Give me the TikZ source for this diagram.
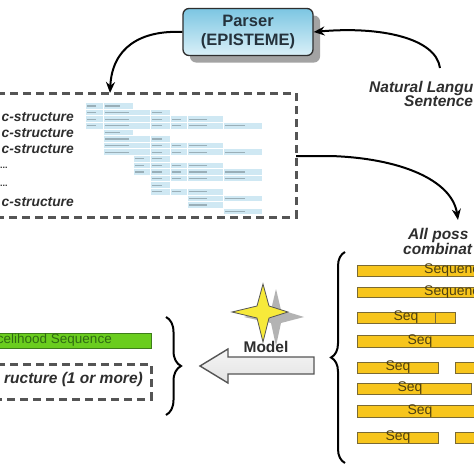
\documentclass[tikz,border=0pt]{standalone}
\usepackage{fontspec}
\setmainfont{Liberation Sans}
\usetikzlibrary{arrows.meta,shadows,decorations.pathreplacing}
\definecolor{txt}{HTML}{2E2E2E}
\definecolor{dashc}{HTML}{555555}
\definecolor{cellc}{HTML}{CFE8F3}
\definecolor{cellt}{HTML}{9AAFB8}
\definecolor{yel}{HTML}{F7C51C}
\definecolor{yeld}{HTML}{7A6A34}
\definecolor{yelt}{HTML}{4E4010}
\definecolor{grn}{HTML}{6ACD1E}
\definecolor{grnd}{HTML}{3E7E1A}
\definecolor{grnt}{HTML}{2F6A12}
\definecolor{ptop}{HTML}{7CC6E2}
\definecolor{pbot}{HTML}{DAF0F8}
\definecolor{ptxt}{HTML}{25323C}
\tikzset{
  lab/.style={font=\bfseries\itshape\fontsize{15.5}{18}\selectfont, text=txt, inner sep=0pt},
  clab/.style={font=\bfseries\itshape\fontsize{13.8}{16}\selectfont, text=txt, inner sep=0pt},
  parserbox/.style={draw=txt, line width=1.3pt, rounded corners=6pt, top color=ptop, bottom color=pbot,
     minimum width=130pt, minimum height=47pt, align=center, font=\bfseries\fontsize{16.5}{18.5}\selectfont, text=ptxt,
     drop shadow={shadow xshift=7pt, shadow yshift=-7pt, fill=gray!80, opacity=0.9}},
  conn/.style={line width=2pt, -{Stealth[length=11pt,width=9pt]}},
  dbox/.style={draw=dashc, line width=3pt, dash pattern=on 8pt off 5pt},
  cell/.style={fill=cellc},
  celltext/.style={draw=cellt, line width=1.2pt},
  ybar/.style={fill=yel, draw=yeld, line width=1pt},
  ytext/.style={font=\fontsize{14}{15}\selectfont, text=yelt, inner sep=0pt},
  bracestyle/.style={line width=2pt, decorate},
}
\begin{document}
\begin{tikzpicture}[x=1pt,y=-1pt]
\useasboundingbox (0,0) rectangle (474,474);
\clip (0,0) rectangle (474,474);
\fill[white] (0,0) rectangle (474,474);

% parser
\node[parserbox] (parser) at (248,32) {Parser\\(EPISTEME)};

% natural language sentence
\node[lab, anchor=west] (nl1) at (369,88) {Natural Langu};
\node[lab, anchor=west] (nl2) at (404,101) {Sentence};
\coordinate (natTop) at (440,68);
\draw[conn] (natTop) .. controls (436,38) and (380,26) .. (parser.east);

% dashed box with table
\coordinate (dbTL) at (-10,93);
\coordinate (dbBR) at (296,217);
\draw[dbox] (dbTL) rectangle (dbBR);
\coordinate (dbTop) at (110,93);
\coordinate (dbRight) at (296,156);
\draw[conn] (parser.west) .. controls (140,30) and (112,48) .. (dbTop);

\node[clab, anchor=east] (c1) at (74,117) {c-structure};
\node[clab, anchor=east] (c2) at (74,133) {c-structure};
\node[clab, anchor=east] (c3) at (74,149) {c-structure};
\node[font=\bfseries\fontsize{9}{10}\selectfont, text=txt, inner sep=0pt, anchor=west] (d1) at (0,168) {...};
\node[font=\bfseries\fontsize{9}{10}\selectfont, text=txt, inner sep=0pt, anchor=west] (d2) at (0,186) {...};
\node[clab, anchor=east] (c4) at (74,202) {c-structure};

\foreach \r/\a/\b in {1/85/103,1/103/133,
  2/85/103,2/103/150,2/150/170,
  3/85/103,3/103/150,3/150/170,3/170/187,3/187/223,
  4/85/103,4/103/150,4/150/170,4/170/187,4/187/223,4/223/262,
  5/103/133,
  6/103/150,6/150/170,
  7/103/150,7/150/170,7/170/187,7/187/223,
  8/103/150,8/150/170,8/170/187,8/187/223,8/223/262,
  9/133/150,9/150/170,
  10/133/150,10/150/170,10/170/187,10/187/223,
  11/133/150,11/150/170,11/170/187,11/187/223,11/223/262,
  12/150/170,12/170/187,12/187/223,12/223/262,
  13/150/170,
  14/150/170,14/170/187,14/187/223,
  15/187/223,15/223/262,
  16/187/223,
  17/223/262}{
  \pgfmathsetmacro{\yc}{106+6.6*(\r-1)}
  \fill[cell] (\a+0.5,\yc-2.8) rectangle (\b-0.5,\yc+2.8);
  \draw[celltext] (\a+2,\yc) -- ({\a+2+0.5*(\b-\a)},\yc);
}

% arrow to all possible combinations
\node[lab, anchor=west] (ap1) at (408,235) {All poss};
\node[lab, anchor=west] (ap2) at (403,249) {combinat};
\coordinate (apTop) at (458,220);
\draw[conn] (dbRight) -- (330,156) .. controls (400,158) and (452,180) .. (apTop);

% big left brace
\coordinate (lbB) at (345,463);
\coordinate (lbT) at (345,252);
\draw[bracestyle, decoration={brace, amplitude=14pt}] (lbB) -- (lbT);

% yellow bars
\path[ybar] (357,265) rectangle (490,276);
\node[ytext, anchor=west] (s1) at (424,270.5) {Sequenc};
\path[ybar] (357,287) rectangle (490,297);
\node[ytext, anchor=west] (s2) at (424,292) {Sequenc};
\path[ybar] (357,312) rectangle (435,323);
\path[ybar] (435,312) rectangle (455,323);
\node[ytext] (s3) at (406,317.5) {Seq};
\path[ybar] (357,335) rectangle (490,347);
\node[ytext] (s4) at (420,341) {Seq};
\path[ybar] (357,362) rectangle (438,373);
\path[ybar] (455,362) rectangle (490,373);
\node[ytext] (s5) at (398,367.5) {Seq};
\path[ybar] (357,383) rectangle (471,394);
\node[ytext] (s6) at (410,388.5) {Seq};
\path[ybar] (357,405) rectangle (490,417);
\node[ytext] (s7) at (420,411) {Seq};
\path[ybar] (357,432) rectangle (438,443);
\path[ybar] (455,432) rectangle (490,443);
\node[ytext] (s8) at (398,437.5) {Seq};

% hollow arrow
\draw[draw=dashc, line width=1.4pt, top color=gray!8, bottom color=gray!22]
  (200,366) -- (228,349) -- (228,357) -- (314,357) -- (314,374) -- (228,374) -- (228,383) -- cycle;

% star with shadow
\fill[gray!70, opacity=0.85] (276,289) -- (281,310) -- (304,317) -- (281,323) -- (276,346) -- (271,323) -- (244,317) -- (271,310) -- cycle;
\draw[fill={rgb,255:red,247;green,234;blue,58}, draw=dashc, line width=0.8pt]
  (263,284) -- (269,306) -- (288,312) -- (269,318) -- (263,342) -- (257,318) -- (232,312) -- (257,306) -- cycle;
\node[font=\bfseries\fontsize{15.5}{18}\selectfont, text=txt] (model) at (266,347) {Model};

% right brace
\coordinate (rbT) at (166,317);
\coordinate (rbB) at (166,415);
\draw[bracestyle, decoration={brace, amplitude=15pt}] (rbT) -- (rbB);

% green bar
\path[fill=grn, draw=grnd, line width=1pt] (-5,333) rectangle (151,348);
\node[font=\fontsize{13.5}{15}\selectfont, text=grnt, anchor=east, inner sep=0pt] (ml) at (112,340.5) {celihood Sequence};

% bottom-left dashed box
\draw[dbox] (-10,364) rectangle (151,399);
\node[lab, anchor=east] (cs) at (143,379) {ructure (1 or more)};
\end{tikzpicture}
\end{document}
